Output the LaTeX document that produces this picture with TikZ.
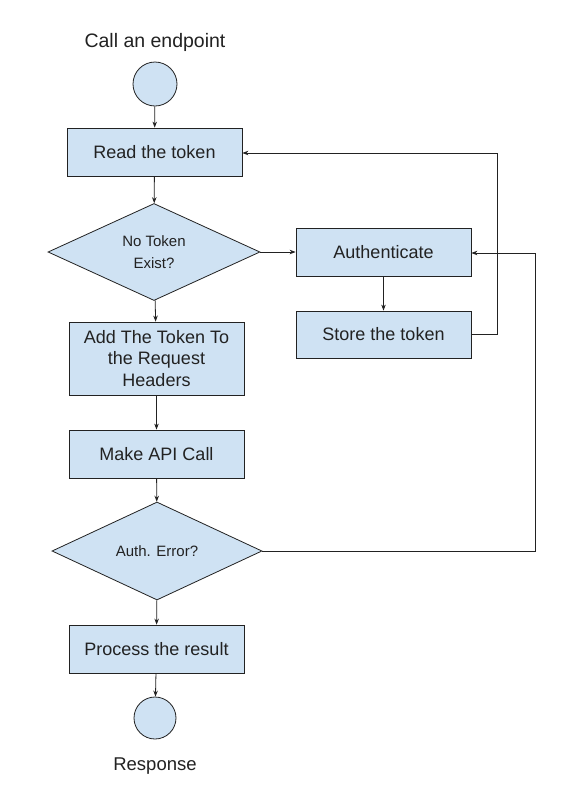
\documentclass[tikz,border=0pt]{standalone}
\usepackage{fontspec}
\setmainfont{Liberation Sans}
\usetikzlibrary{shapes.geometric,arrows.meta}
\definecolor{boxfill}{HTML}{CFE2F3}
\definecolor{linec}{HTML}{222222}
\begin{document}
\begin{tikzpicture}[x=1pt,y=-1pt,
  box/.style={draw=linec, fill=boxfill, line width=0.8pt, minimum width=175pt, minimum height=48pt, inner sep=0pt, align=center, text=linec, font=\fontsize{18}{21.5}\selectfont},
  dia/.style={diamond, draw=linec, fill=boxfill, line width=0.8pt, minimum width=212pt, minimum height=97pt, inner sep=0pt, align=center, text=linec, font=\fontsize{15}{22}\selectfont},
  circ/.style={circle, draw=linec, fill=boxfill, line width=0.8pt, minimum size=44pt, inner sep=0pt},
  lbl/.style={text=linec, inner sep=0pt},
  arr/.style={-{Stealth[length=6pt,width=4.5pt]}, draw=linec, line width=0.8pt}]
\useasboundingbox[fill=white] (0,0) rectangle (570,788);
\node[lbl, font=\fontsize{19.5}{22}\selectfont] (start) at (155,42) {Call an endpoint};
\node[circ] (c1) at (155,84) {};
\node[box] (read) at (154.5,152) {Read the token};
\node[dia] (d1) at (154,252) {No Token\\Exist?};
\node[box, minimum height=73pt] (add) at (156.5,358.5) {Add The Token To\\the Request\\Headers};
\node[box] (make) at (156.5,454) {Make API Call};
\node[dia, minimum width=210pt, minimum height=98pt] (d2) at (157,551) {Auth. Error?};
\node[box] (proc) at (156.5,649) {Process the result};
\node[circ, minimum size=42pt] (c2) at (155,718) {};
\node[lbl, font=\fontsize{18.5}{22}\selectfont] (resp) at (155,766) {Response};
\node[box] (auth) at (383.5,252) {Authenticate};
\node[box, minimum height=47pt] (store) at (383.5,334.5) {Store the token};
\coordinate (s1) at (497,334.5);
\coordinate (s2) at (497,153);
\coordinate (e1) at (535,551);
\coordinate (e2) at (535,253);
\draw[arr] (c1) -- (read);
\draw[arr] (read) -- (d1);
\draw[arr] (d1) -- (add);
\draw[arr] (add) -- (make);
\draw[arr] (make) -- (d2);
\draw[arr] (d2) -- (proc);
\draw[arr] (proc) -- (c2);
\draw[arr] (d1.east) -- (auth.west);
\draw[arr] (auth) -- (store);
\draw[arr] (store.east) -- (s1) -- (s2) -- (read.east |- s2);
\draw[arr] (d2.east) -- (e1) -- (e2) -- (auth.east |- e2);
\end{tikzpicture}
\end{document}
